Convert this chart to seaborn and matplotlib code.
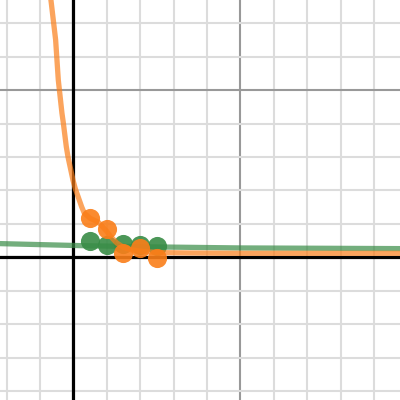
import numpy as np
import pandas as pd
import seaborn as sns
import matplotlib.pyplot as plt
from matplotlib.ticker import MultipleLocator

# scatter data
pts_x = [0.5, 1.0, 1.5, 2.0, 2.5]
orange_y = [1.17, 0.85, 0.12, 0.29, -0.01]
green_y = [0.49, 0.37, 0.39, 0.36, 0.35]

# fitted curves
orange_curve_x = [-0.67, -0.53, -0.45, -0.34, -0.30, -0.21, -0.16, -0.01, 0.06, 0.25, 0.33,
                  0.5, 0.75, 1.0, 1.1, 1.3, 1.5, 1.75, 2.1, 2.6, 3.5, 5.0, 7.0, 9.8]
orange_curve_y = [7.70, 6.51, 5.31, 4.31, 4.03, 3.31, 3.01, 2.31, 2.05, 1.51, 1.32,
                  1.17, 1.05, 0.78, 0.64, 0.43, 0.30, 0.22, 0.17, 0.14, 0.13, 0.12, 0.12, 0.12]
green_curve_x = [-2.2, 0.2, 2.5, 5.0, 7.5, 9.8]
green_curve_y = [0.41, 0.35, 0.31, 0.28, 0.27, 0.26]

pts = pd.DataFrame({"x": pts_x, "orange": orange_y, "green": green_y})
oc = pd.DataFrame({"x": orange_curve_x, "y": orange_curve_y})
gc = pd.DataFrame({"x": green_curve_x, "y": green_curve_y})

fig = plt.figure(figsize=(4, 4), dpi=100)
ax = fig.add_axes([0, 0, 1, 1])

ax.xaxis.set_major_locator(MultipleLocator(5))
ax.yaxis.set_major_locator(MultipleLocator(5))
ax.xaxis.set_minor_locator(MultipleLocator(1))
ax.yaxis.set_minor_locator(MultipleLocator(1))
ax.grid(which="minor", color="#dcdcdc", lw=1.5, zorder=0)
ax.grid(which="major", color="#999999", lw=1.5, zorder=0)
ax.set_axisbelow(True)
ax.axhline(0, color="black", lw=2.3, zorder=1)
ax.axvline(0, color="black", lw=2.3, zorder=1)

sns.lineplot(data=gc, x="x", y="y", color="#388c46", alpha=0.7, lw=3.8, sort=False, ax=ax, zorder=2)
sns.scatterplot(data=pts, x="x", y="green", color="#388c46", alpha=0.9, s=190, linewidth=0, ax=ax, zorder=3)
sns.lineplot(data=oc, x="x", y="y", color="#fa7e19", alpha=0.7, lw=3.8, sort=False, ax=ax, zorder=4)
sns.scatterplot(data=pts, x="x", y="orange", color="#fa7e19", alpha=0.9, s=190, linewidth=0, ax=ax, zorder=5)

ax.set_xlim(-2.195, 9.78)
ax.set_ylim(-4.27, 7.70)
ax.tick_params(which="both", length=0, labelbottom=False, labelleft=False)
ax.set_xlabel("")
ax.set_ylabel("")
for s in ax.spines.values():
    s.set_visible(False)

fig.savefig("out.png", dpi=100)
